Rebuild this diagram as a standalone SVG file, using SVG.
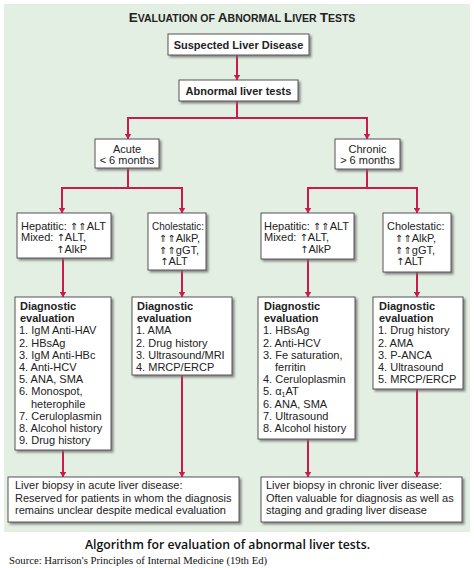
<svg xmlns="http://www.w3.org/2000/svg" width="474" height="568" viewBox="0 0 474 568">
<defs>
<marker id="ah" markerWidth="6" markerHeight="7" refX="5.5" refY="3.5" orient="auto" markerUnits="userSpaceOnUse">
<path d="M0,0 L6,3.5 L0,7 Z" fill="#cc1a4d"/>
</marker>
<filter id="sh" x="-10%" y="-10%" width="130%" height="130%">
<feDropShadow dx="2" dy="2" stdDeviation="0.8" flood-color="#6e6e6e" flood-opacity="0.8"/>
</filter>
</defs>
<style>
.bx{fill:#ffffff;stroke:#555555;stroke-width:1;filter:url(#sh)}
.t{font-family:"Liberation Sans",Arial,"DejaVu Sans",sans-serif;font-size:11px;fill:#222222}
.b{font-weight:bold}
.c{text-anchor:middle}
.u{font-family:"DejaVu Sans",sans-serif;font-size:10px}
.ln{fill:none;stroke:#cc1a4d;stroke-width:2}
.ar{fill:none;stroke:#cc1a4d;stroke-width:2;marker-end:url(#ah)}
</style>
<rect x="0" y="0" width="474" height="568" fill="#ffffff"/>
<rect x="4" y="4" width="466" height="528" fill="#e4efe4"/>
<text x="242" y="22" class="t b c" style="font-size:13.5px"><tspan>E</tspan><tspan style="font-size:10.5px">VALUATION OF </tspan><tspan>A</tspan><tspan style="font-size:10.5px">BNORMAL </tspan><tspan>L</tspan><tspan style="font-size:10.5px">IVER </tspan><tspan>T</tspan><tspan style="font-size:10.5px">ESTS</tspan></text>

<g id="connectors">
<path class="ar" d="M237,55 V80"/>
<path class="ln" d="M237,101 V118 M128,118 H367"/>
<path class="ar" d="M128,117 V139"/>
<path class="ar" d="M367,117 V139"/>
<path class="ln" d="M128,168 V188 M62,188 H182"/>
<path class="ar" d="M62,187 V213"/>
<path class="ar" d="M182,187 V213"/>
<path class="ln" d="M367,169 V188 M308,188 H417"/>
<path class="ar" d="M308,187 V213"/>
<path class="ar" d="M417,187 V213"/>
<path class="ar" d="M63,258 V297"/>
<path class="ar" d="M182,270 V297"/>
<path class="ar" d="M308,259 V297"/>
<path class="ar" d="M417,272 V297"/>
<path class="ar" d="M63,450 V477"/>
<path class="ar" d="M182,375 V477"/>
<path class="ar" d="M308,439 V477"/>
<path class="ar" d="M417,389 V477"/>
</g>

<g id="suspected">
<rect class="bx" x="168" y="34" width="141" height="21"/>
<text class="t b c" x="238.5" y="48.5">Suspected Liver Disease</text>
</g>
<g id="abnormal">
<rect class="bx" x="179" y="80" width="119" height="21"/>
<text class="t b c" x="238.5" y="94.5">Abnormal liver tests</text>
</g>
<g id="acute">
<rect class="bx" x="95" y="139" width="64" height="29"/>
<text class="t c" x="127" y="152.5">Acute</text>
<text class="t c" x="127" y="164">&lt; 6 months</text>
</g>
<g id="chronic">
<rect class="bx" x="335" y="139" width="65" height="30"/>
<text class="t c" x="367.5" y="152.5">Chronic</text>
<text class="t c" x="367.5" y="164">&gt; 6 months</text>
</g>
<g id="hepatitic-acute">
<rect class="bx" x="17" y="213" width="94" height="45"/>
<text class="t" x="21" y="230">Hepatitic: <tspan class="u">⇑⇑</tspan>ALT</text>
<text class="t" x="21" y="241.3">Mixed: <tspan class="u">↑</tspan>ALT,</text>
<text class="t" x="56" y="252.5"><tspan class="u">↑</tspan>AlkP</text>
</g>
<g id="cholestatic-acute">
<rect class="bx" x="148" y="213" width="58" height="57"/>
<text class="t" x="152" y="230" textLength="52" lengthAdjust="spacingAndGlyphs">Cholestatic:</text>
<text class="t" x="159" y="241.8"><tspan class="u">⇑⇑</tspan>AlkP,</text>
<text class="t" x="159" y="253.6"><tspan class="u">⇑⇑</tspan>gGT,</text>
<text class="t" x="160" y="265.4"><tspan class="u">↑</tspan>ALT</text>
</g>
<g id="hepatitic-chronic">
<rect class="bx" x="261" y="213" width="93" height="46"/>
<text class="t" x="264" y="230">Hepatitic: <tspan class="u">⇑⇑</tspan>ALT</text>
<text class="t" x="264" y="241.3">Mixed: <tspan class="u">↑</tspan>ALT,</text>
<text class="t" x="300" y="252.5"><tspan class="u">↑</tspan>AlkP</text>
</g>
<g id="cholestatic-chronic">
<rect class="bx" x="383" y="213" width="68" height="59"/>
<text class="t" x="387" y="230">Cholestatic:</text>
<text class="t" x="395" y="241.8"><tspan class="u">⇑⇑</tspan>AlkP,</text>
<text class="t" x="395" y="253.6"><tspan class="u">⇑⇑</tspan>gGT,</text>
<text class="t" x="396" y="265.4"><tspan class="u">↑</tspan>ALT</text>
</g>
<g id="diag-acute-hepatitic">
<rect class="bx" x="15" y="297" width="96" height="153"/>
<text class="t b" x="20" y="310">Diagnostic</text>
<text class="t b" x="20" y="322.2">evaluation</text>
<text class="t" x="19" y="334.4">1. IgM Anti-HAV</text>
<text class="t" x="19" y="346.6">2. HBsAg</text>
<text class="t" x="19" y="358.8">3. IgM Anti-HBc</text>
<text class="t" x="19" y="371">4. Anti-HCV</text>
<text class="t" x="19" y="383.2">5. ANA, SMA</text>
<text class="t" x="19" y="395.4">6. Monospot,</text>
<text class="t" x="31" y="407.6">heterophile</text>
<text class="t" x="19" y="419.8">7. Ceruloplasmin</text>
<text class="t" x="19" y="432">8. Alcohol history</text>
<text class="t" x="19" y="444.2">9. Drug history</text>
</g>
<g id="diag-acute-cholestatic">
<rect class="bx" x="132" y="297" width="100" height="78"/>
<text class="t b" x="137" y="310">Diagnostic</text>
<text class="t b" x="137" y="322.2">evaluation</text>
<text class="t" x="136" y="334.4">1. AMA</text>
<text class="t" x="136" y="346.6">2. Drug history</text>
<text class="t" x="136" y="358.8">3. Ultrasound/MRI</text>
<text class="t" x="136" y="371">4. MRCP/ERCP</text>
</g>
<g id="diag-chronic-hepatitic">
<rect class="bx" x="258" y="297" width="97" height="142"/>
<text class="t b" x="264" y="310">Diagnostic</text>
<text class="t b" x="264" y="322.2">evaluation</text>
<text class="t" x="263" y="334.4">1. HBsAg</text>
<text class="t" x="263" y="346.6">2. Anti-HCV</text>
<text class="t" x="263" y="358.8">3. Fe saturation,</text>
<text class="t" x="275" y="371">ferritin</text>
<text class="t" x="263" y="383.2">4. Ceruloplasmin</text>
<text class="t" x="263" y="395.4">5. α<tspan style="font-size:7px" dy="2">1</tspan><tspan dy="-2">AT</tspan></text>
<text class="t" x="263" y="407.6">6. ANA, SMA</text>
<text class="t" x="263" y="419.8">7. Ultrasound</text>
<text class="t" x="263" y="432">8. Alcohol history</text>
</g>
<g id="diag-chronic-cholestatic">
<rect class="bx" x="373" y="297" width="90" height="92"/>
<text class="t b" x="379" y="310">Diagnostic</text>
<text class="t b" x="379" y="322.2">evaluation</text>
<text class="t" x="378" y="334.4">1. Drug history</text>
<text class="t" x="378" y="346.6">2. AMA</text>
<text class="t" x="378" y="358.8">3. P-ANCA</text>
<text class="t" x="378" y="371">4. Ultrasound</text>
<text class="t" x="378" y="383.2">5. MRCP/ERCP</text>
</g>
<g id="biopsy-acute">
<rect class="bx" x="8" y="477" width="231" height="45"/>
<text class="t" x="15" y="489">Liver biopsy in acute liver disease:</text>
<text class="t" x="15" y="501.5">Reserved for patients in whom the diagnosis</text>
<text class="t" x="15" y="514">remains unclear despite medical evaluation</text>
</g>
<g id="biopsy-chronic">
<rect class="bx" x="261" y="477" width="201" height="45"/>
<text class="t" x="266" y="489">Liver biopsy in chronic liver disease:</text>
<text class="t" x="266" y="501.5">Often valuable for diagnosis as well as</text>
<text class="t" x="266" y="514">staging and grading liver disease</text>
</g>
<text x="85" y="549" textLength="285" lengthAdjust="spacingAndGlyphs" style="font-family:'Open Sans','Liberation Sans',sans-serif;font-size:13px;font-weight:600;fill:#111111">Algorithm for evaluation of abnormal liver tests.</text>
<text x="9" y="564" style="font-family:'Liberation Serif','Times New Roman',serif;font-size:10.7px;fill:#111111">Source: Harrison's Principles of Internal Medicine (19th Ed)</text>
</svg>
